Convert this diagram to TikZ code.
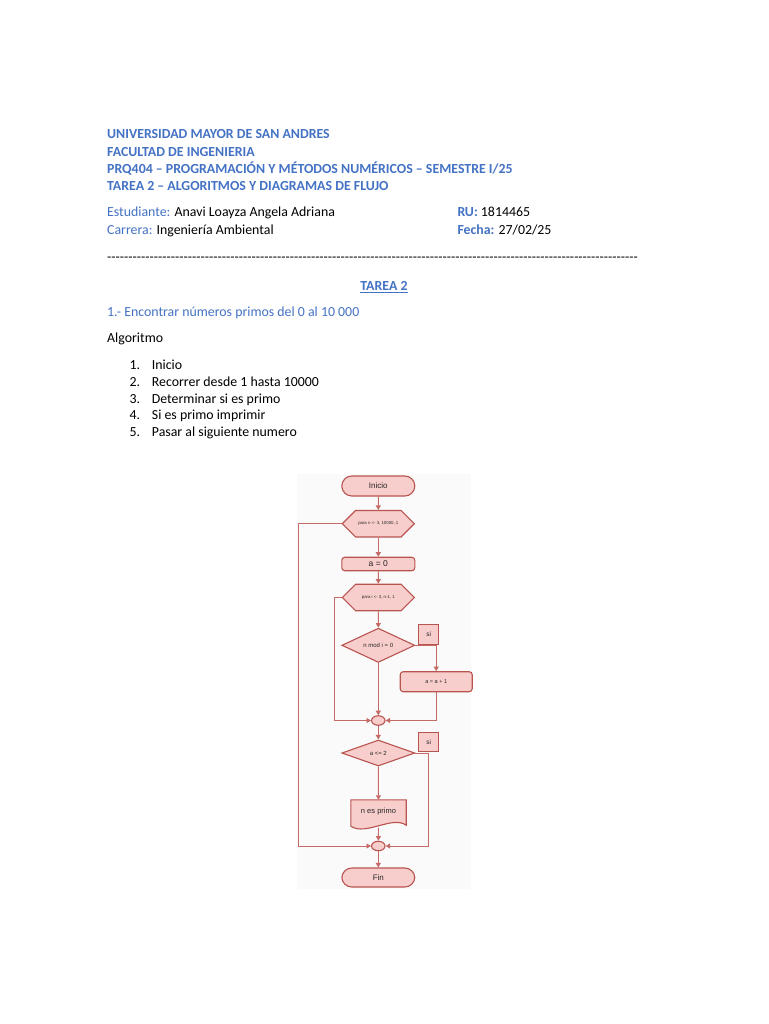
\documentclass[tikz,border=0pt]{standalone}
\usepackage{fontspec}
\setmainfont{Carlito}
\newfontfamily\fcfont{Liberation Sans}
\usetikzlibrary{arrows.meta,shapes.geometric,shapes.symbols,calc}
\definecolor{hblue}{HTML}{4472C4}
\definecolor{fcfill}{HTML}{F8CECC}
\definecolor{fcline}{HTML}{B85450}
\definecolor{fcwire}{HTML}{C56A66}
\definecolor{fcback}{HTML}{FBFAFA}
\begin{document}
\begin{tikzpicture}[x=1pt,y=-1pt,
  txt/.style={anchor=base west, inner sep=0pt, font=\fontsize{13.85}{16}\selectfont},
  head/.style={anchor=base west, inner sep=0pt, text=hblue, font=\fontsize{13.85}{16}\selectfont\bfseries},
  fc/.style={draw=fcline, fill=fcfill, line width=1.1pt, inner sep=0pt, text=black!85, font=\fcfont\fontsize{7}{8}\selectfont},
  term/.style={fc, rounded corners=10pt, minimum width=73pt, minimum height=20pt, font=\fcfont\fontsize{8}{9}\selectfont},
  hexa/.style={fc, signal, signal to=east and west, signal from=nowhere, minimum width=72pt, minimum height=26.5pt, font=\fcfont\fontsize{4.3}{5}\selectfont},
  proc/.style={fc, rounded corners=3pt},
  dec/.style={fc, diamond, minimum width=73pt, minimum height=27pt, font=\fcfont\fontsize{6}{7}\selectfont},
  lab/.style={fc, line width=0.8pt, minimum width=20.5pt, minimum height=20pt, font=\fcfont\fontsize{6.5}{7}\selectfont},
  merge/.style={fc, ellipse, minimum width=13.5pt, minimum height=9.5pt},
  doctext/.style={inner sep=0pt, text=black!85, font=\fcfont\fontsize{7.5}{8}\selectfont},
  wire/.style={draw=fcwire, line width=0.9pt},
  arr/.style={wire, -{Triangle[width=5pt,length=4.5pt]}}
]
\useasboundingbox (0,0) rectangle (768,1024);
\fill[white] (0,0) rectangle (768,1024);

% ---------- header ----------
\node[head] (h1t) at (107,139) {UNIVERSIDAD MAYOR DE SAN ANDRES};
\node[head] (h2t) at (107,156.5) {FACULTAD DE INGENIERIA};
\node[head] (h3t) at (107,174) {PRQ404 – PROGRAMACIÓN Y MÉTODOS NUMÉRICOS – SEMESTRE I/25};
\node[head] (h4t) at (107,191) {TAREA 2 – ALGORITMOS Y DIAGRAMAS DE FLUJO};
\node[txt] (est) at (107,216.7) {\textcolor{hblue}{Estudiante:} Anavi Loayza Angela Adriana};
\node[txt] (car) at (107,234.5) {\textcolor{hblue}{Carrera:} Ingeniería Ambiental};
\node[txt] (ru) at (457.3,216.7) {\textcolor{hblue}{\bfseries RU:} 1814465};
\node[txt] (fec) at (457.3,234.5) {\textcolor{hblue}{\bfseries Fecha:} 27/02/25};
\node[txt] (dash) at (107,261.3) {\hbox to 531pt{\xleaders\hbox{-}\hfill}};

\node[anchor=base, inner sep=0pt, text=hblue, font=\fontsize{13.85}{16}\selectfont\bfseries] (tarea) at (384,290) {TAREA 2};
\draw[hblue, line width=0.8pt] ($(tarea.base west)+(0,2.7)$) -- ($(tarea.base east)+(0,2.7)$);

\node[txt, text=hblue] (ej1) at (107,316) {1.- Encontrar números primos del 0 al 10 000};
\node[txt] (alg) at (107,342.7) {Algoritmo};
\foreach \n/\t [count=\k] in {1/Inicio,2/Recorrer desde 1 hasta 10000,3/Determinar si es primo,4/Si es primo imprimir,5/Pasar al siguiente numero}{
  \node[txt] (num\k) at (129.5,{369.3+16.85*(\k-1)}) {\n.};
  \node[txt] (it\k) at (151.7,{369.3+16.85*(\k-1)}) {\t};
}

% ---------- flowchart ----------
\fill[fcback] (297,474) rectangle (471,889);

\node[term] (ini) at (378.3,486) {Inicio};
\node[hexa] (hx1) at (378.3,523.7) {para n <- 3, 10000, 1};
\node[proc, minimum width=73pt, minimum height=13.5pt, font=\fcfont\fontsize{8.5}{9}\selectfont] (a0) at (378.3,564) {a = 0};
\node[hexa] (hx2) at (378.3,597.5) {para i <- 3, n-1, 1};
\node[dec] (d1) at (378.3,645.3) {n mod i = 0};
\node[proc, minimum width=72pt, minimum height=20pt, font=\fcfont\fontsize{5.5}{6}\selectfont] (inc) at (436.2,681.7) {a = a + 1};
\node[merge] (m1) at (378.3,720.5) {};
\node[dec, minimum height=26pt] (d2) at (378.3,753) {a <= 2};
\node[inner sep=0pt, minimum width=55pt, minimum height=24pt] (doc) at (378.5,812) {};
\filldraw[fill=fcfill, draw=fcline, line width=1.1pt]
  (doc.north west) -- (doc.north east) -- ($(doc.south east)+(0,1)$)
  .. controls ($(doc.south east)+(-14,-9)$) and ($(doc.south west)+(15,12)$) .. ($(doc.south west)+(0,2)$) -- cycle;
\node[doctext] (doct) at (doc.center) {n es primo};
\coordinate (docb) at ($(doc.south)+(0,3.5)$);
\node[merge] (m2) at (378.3,846) {};
\node[term, minimum height=19pt] (fin) at (378.3,877.5) {Fin};

% connectors
\draw[arr] (ini) -- (hx1);
\draw[arr] (hx1) -- (a0);
\draw[arr] (a0) -- (hx2);
\draw[arr] (hx2) -- (d1);
\draw[arr] (d1.east) -| (inc.north);
\draw[arr] (d1) -- (m1);
\draw[arr] (inc.south) |- (m1.east);
\draw[arr] (hx2.west) -- ++(-7,0) |- (m1.west);
\draw[arr] (m1) -- (d2);
\draw[arr] (d2) -- (doc);
\draw[arr] (d2.east) -- ++(13.5,0) |- (m2.east);
\draw[arr] (docb) -- (m2);
\draw[arr] (hx1.west) -- ++(-43,0) |- (m2.west);
\draw[arr] (m2) -- (fin);

\node[lab] (si1) at (428.6,634.3) {si};
\node[lab, minimum height=19pt] (si2) at (428.6,741.7) {si};
\end{tikzpicture}
\end{document}
